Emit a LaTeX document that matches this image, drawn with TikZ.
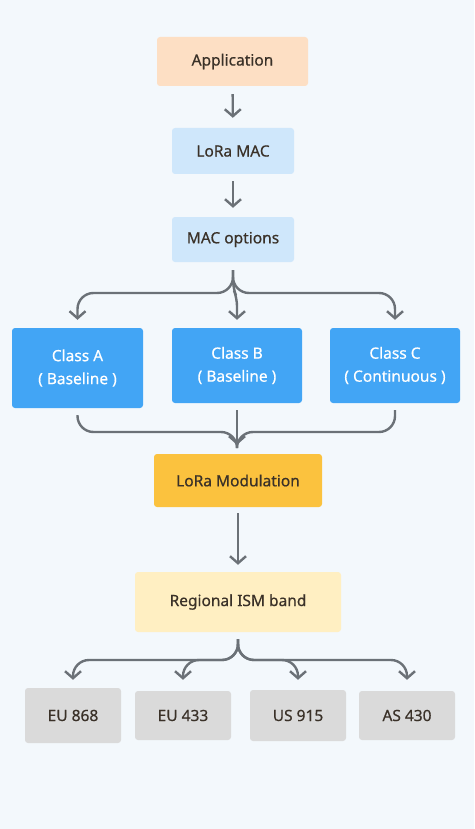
\documentclass[tikz,border=0pt]{standalone}
\usepackage{fontspec}
\setmainfont{Noto Sans}[FakeBold=0.5]
\usetikzlibrary{arrows.meta}
\definecolor{bgc}{HTML}{F3F8FC}
\definecolor{peach}{HTML}{FDDFC4}
\definecolor{lblue}{HTML}{CFE7FB}
\definecolor{cblue}{HTML}{42A5F5}
\definecolor{gold}{HTML}{FBC23E}
\definecolor{lyel}{HTML}{FFEFC2}
\definecolor{lgray}{HTML}{DADADA}
\definecolor{arrc}{HTML}{6B7177}
\definecolor{darktxt}{HTML}{3A3128}
\tikzset{
  box/.style={rectangle, rounded corners=3pt, inner sep=0pt, font=\fontsize{15.5}{18}\selectfont, text=darktxt, align=center},
  arr/.style={draw=arrc, line width=2.4pt, -{Straight Barb[length=7pt,width=16pt,line width=2.4pt]}},
  plain/.style={draw=arrc, line width=2.4pt},
}
\begin{document}
\begin{tikzpicture}[x=1pt,y=-1pt]
\fill[bgc] (0,0) rectangle (474,829);
\useasboundingbox (0,0) rectangle (474,829);
% top chain
\node[box, fill=peach, minimum width=151pt, minimum height=49pt] (app) at (232.5,61.5) {Application};
\node[box, fill=lblue, minimum width=122pt, minimum height=46pt] (mac) at (233,151) {LoRa MAC};
\node[box, fill=lblue, minimum width=122pt, minimum height=45pt] (opt) at (233,239.5) {MAC options};
% classes
\node[box, fill=cblue, text=white, minimum width=131pt, minimum height=80pt] (ca) at (77.5,368) {Class A\\[5pt]( Baseline )};
\node[box, fill=cblue, text=white, minimum width=130pt, minimum height=75pt] (cb) at (237,365.5) {Class B\\[5pt]( Baseline )};
\node[box, fill=cblue, text=white, minimum width=130pt, minimum height=75pt] (cc) at (395,365.5) {Class C\\[5pt]( Continuous )};
% modulation
\node[box, fill=gold, minimum width=168pt, minimum height=53pt] (mod) at (238,480.5) {LoRa Modulation};
\node[box, fill=lyel, minimum width=206pt, minimum height=60pt] (ism) at (238,602) {Regional ISM band};
% regions
\node[box, fill=lgray, minimum width=96pt, minimum height=55pt] (eu8) at (73,715.5) {EU 868};
\node[box, fill=lgray, minimum width=96pt, minimum height=49pt] (eu4) at (183,715.5) {EU 433};
\node[box, fill=lgray, minimum width=96pt, minimum height=51pt] (us) at (298,715.5) {US 915};
\node[box, fill=lgray, minimum width=96pt, minimum height=49pt] (as) at (407,715.5) {AS 430};
% straight arrows
\draw[arr, shorten <=8pt, shorten >=10pt] (app) -- (mac);
\draw[arr, shorten <=7pt, shorten >=9pt] (mac) -- (opt);
\draw[arr, shorten <=6pt, shorten >=7pt] (mod.south) -- (mod.south |- ism.north);
% split to classes
\coordinate (sp) at (233,293);
\draw[arr, rounded corners=16pt, shorten <=8pt, shorten >=8pt] (opt.south) -- (opt.south |- sp) -- (ca.north |- sp) -- (ca.north);
\draw[arr, rounded corners=16pt, shorten <=8pt, shorten >=8pt] (opt.south) -- (opt.south |- sp) -- (cc.north |- sp) -- (cc.north);
\draw[arr, rounded corners=8pt, shorten <=8pt, shorten >=8pt] (opt.south) -- (233,288) -- (237,298) -- (cb.north);
% merge to modulation
\coordinate (mg) at (237,432);
\draw[plain, rounded corners=16pt, shorten <=7pt] (ca.south) -- (ca.south |- mg) -- (mg) -- (237,440);
\draw[plain, rounded corners=16pt, shorten <=7pt] (cc.south) -- (cc.south |- mg) -- (mg) -- (237,440);
\draw[arr, shorten <=7pt, shorten >=9pt] (cb.south) -- (cb.south |- mod.north);
% split to regions
\coordinate (rs) at (238,660);
\draw[arr, rounded corners=16pt, shorten <=7pt, shorten >=8pt] (ism.south) -- (ism.south |- rs) -- (eu8.north |- rs) -- (eu8.north);
\draw[arr, rounded corners=16pt, shorten <=7pt, shorten >=11pt] (ism.south) -- (ism.south |- rs) -- (eu4.north |- rs) -- (eu4.north);
\draw[arr, rounded corners=16pt, shorten <=7pt, shorten >=10pt] (ism.south) -- (ism.south |- rs) -- (us.north |- rs) -- (us.north);
\draw[arr, rounded corners=16pt, shorten <=7pt, shorten >=11pt] (ism.south) -- (ism.south |- rs) -- (as.north |- rs) -- (as.north);
\end{tikzpicture}
\end{document}
